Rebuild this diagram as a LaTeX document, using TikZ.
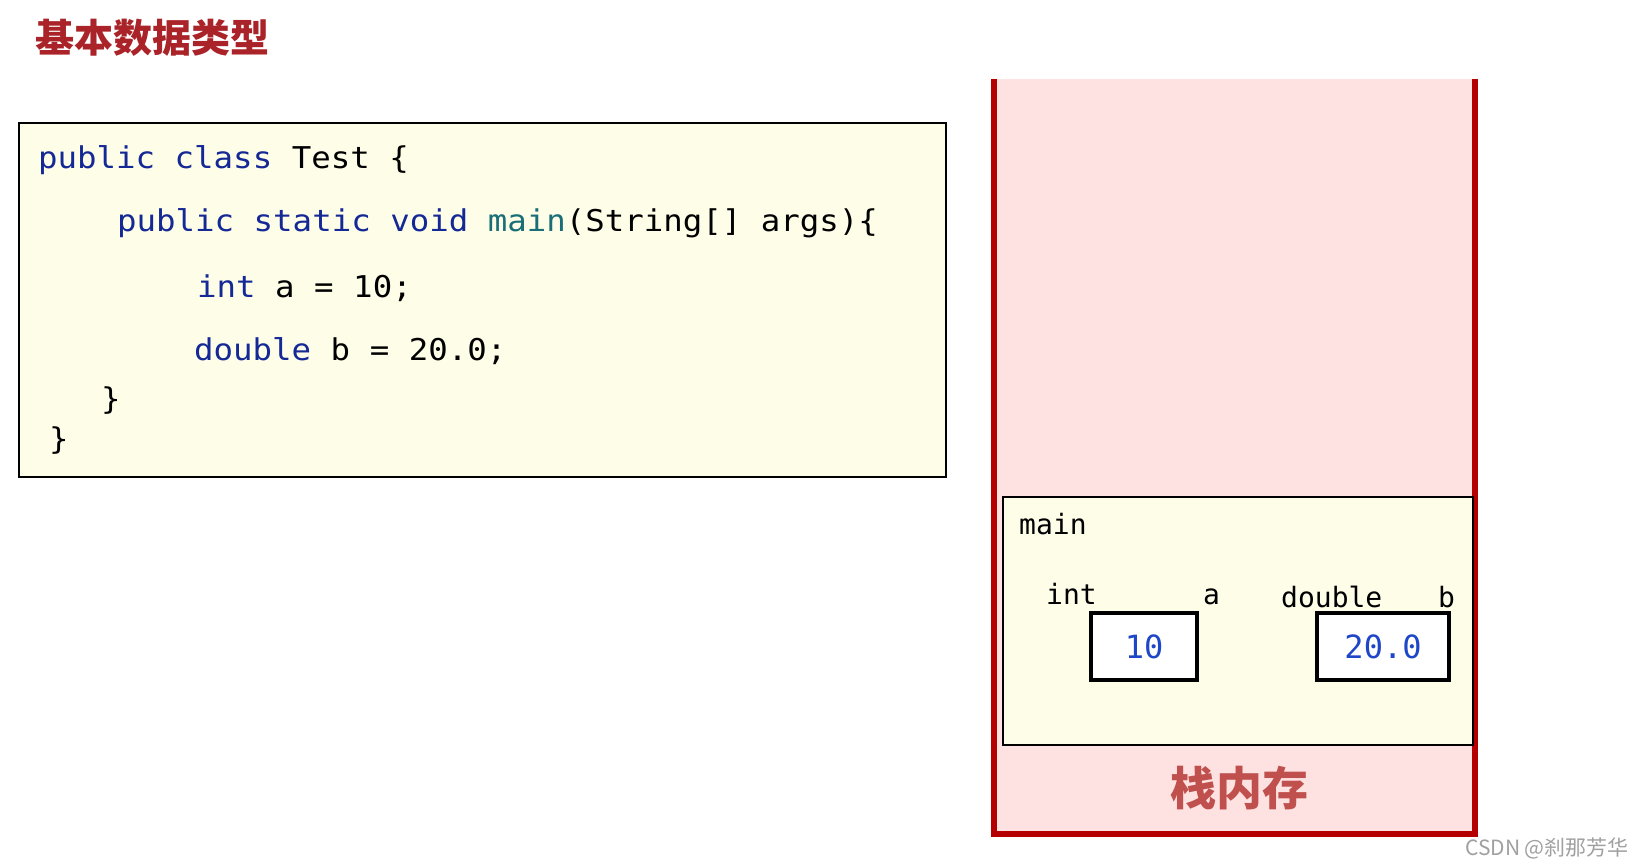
\documentclass[tikz,border=0pt]{standalone}
\usepackage{fontspec}
\newfontfamily\codefont[FakeStretch=1.08]{DejaVu Sans Mono}
\newfontfamily\monofont{DejaVu Sans Mono}
\newfontfamily\cjk{Noto Sans CJK SC}
\definecolor{kw}{RGB}{20,40,150}
\definecolor{fn}{RGB}{25,110,120}
\definecolor{valblue}{RGB}{30,70,200}
\definecolor{cream}{RGB}{254,253,232}
\definecolor{stackpink}{RGB}{254,226,226}
\definecolor{stackred}{RGB}{180,0,0}
\definecolor{titlered}{RGB}{170,35,40}
\definecolor{labelred}{RGB}{192,80,77}
\definecolor{wmgray}{RGB}{160,160,160}
\tikzset{
  codeline/.style={anchor=base west, inner sep=0pt, font=\codefont\fontsize{30}{36}\selectfont},
  framelabel/.style={anchor=base west, inner sep=0pt, font=\monofont\fontsize{28}{33}\selectfont},
  valbox/.style={draw=black, line width=3.5pt, fill=white, inner sep=0pt,
    text=valblue, font=\monofont\fontsize{32}{38}\selectfont},
}
\begin{document}
\begin{tikzpicture}[x=1pt,y=-1pt]
\useasboundingbox (0,0) rectangle (1632,866);
\fill[white] (0,0) rectangle (1632,866);
% title
\node[inner sep=0pt, text=titlered, font=\cjk\bfseries\fontsize{39}{44}\selectfont] (title) at (152,38) {基本数据类型};
% code box
\draw[fill=cream, line width=2pt] (19,123) rectangle (946,477);
\node[codeline] (l1) at (38,169) {\textcolor{kw}{public class} Test \{};
\node[codeline] (l2) at (117,232) {\textcolor{kw}{public static void} \textcolor{fn}{main}(String[] args)\{};
\node[codeline] (l3) at (197,298) {\textcolor{kw}{int} a = 10;};
\node[codeline] (l4) at (194,360) {\textcolor{kw}{double} b = 20.0;};
\node[codeline] (l5) at (101,409) {\}};
\node[codeline] (l6) at (49,449) {\}};
% stack
\fill[stackpink] (994,79) rectangle (1475,834);
\draw[stackred, line width=6pt] (994,79) -- (994,834) -- (1475,834) -- (1475,79);
\draw[fill=cream, line width=1.5pt] (1003,497) rectangle (1473,745);
\node[framelabel] (mainlbl) at (1019,534) {main};
\node[framelabel] (intlbl) at (1046,604) {int};
\node[framelabel] (albl) at (1203,604) {a};
\node[framelabel] (dbllbl) at (1281,607) {double};
\node[framelabel] (blbl) at (1438,607) {b};
\node[valbox, minimum width=106pt, minimum height=67pt] (va) at (1144,646.5) {10};
\node[valbox, minimum width=132pt, minimum height=67pt] (vb) at (1383,646.5) {20.0};
\node[inner sep=0pt, text=labelred, font=\cjk\bfseries\fontsize{46}{52}\selectfont] (stacklbl) at (1239,788) {栈内存};
% watermark
\node[anchor=base west, inner sep=0pt, text=wmgray, font=\cjk\fontsize{21}{25}\selectfont] (wm) at (1465,855) {CSDN @刹那芳华};
\end{tikzpicture}
\end{document}
